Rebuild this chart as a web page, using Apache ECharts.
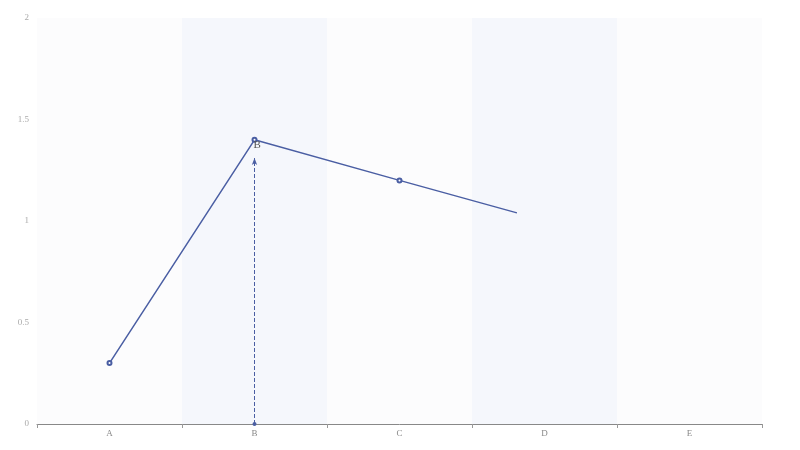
<!DOCTYPE html>
<html><head><meta charset="utf-8">
<script src="https://cdn.jsdelivr.net/npm/echarts@6/dist/echarts.min.js"></script>
<style>html,body{margin:0;padding:0;background:#fff}#c{width:800px;height:450px}</style>
</head><body><div id="c"></div>
<script>
var categories = ['A', 'B', 'C', 'D', 'E'];
var yTicks = [0, 0.5, 1, 1.5, 2];
var lineX = [0, 1, 2, 2.81];
var lineY = [0.3, 1.4, 1.2, 1.04];
var markX = 1;
var markFrom = 0;
var markTo = 1.31;
var markLabel = 'B';

var lineColor = '#4a5ea3';
var seriesData = lineX.map(function (x, i) {
  var d = { value: [x, lineY[i]] };
  if (i === lineX.length - 1) d.symbol = 'none';
  return d;
});

var chart = echarts.init(document.getElementById('c'));
chart.setOption({
  animation: false,
  textStyle: { fontFamily: 'Liberation Serif' },
  grid: { left: 37, right: 38, top: 18, bottom: 26 },
  xAxis: [{
    type: 'category',
    data: categories,
    axisLine: { lineStyle: { color: '#888', width: 1 } },
    axisTick: { show: true, length: 4, lineStyle: { color: '#999' } },
    axisLabel: { color: '#888', fontSize: 9, margin: 5, fontFamily: 'Liberation Serif' },
    splitArea: { show: true, areaStyle: { color: ['#fcfcfd', '#f5f7fc'] } }
  }, {
    type: 'value', min: -0.5, max: 4.5, show: false
  }],
  yAxis: {
    type: 'value', min: yTicks[0], max: yTicks[yTicks.length - 1], interval: 0.5,
    axisLine: { show: false }, axisTick: { show: false },
    axisLabel: { color: '#aaa', fontSize: 9, fontFamily: 'Liberation Serif' },
    splitLine: { lineStyle: { color: '#eceef2' } }
  },
  series: [{
    type: 'line',
    xAxisIndex: 1,
    data: seriesData,
    symbol: 'emptyCircle',
    symbolSize: 4,
    lineStyle: { color: lineColor, width: 1.5 },
    itemStyle: { color: lineColor, borderWidth: 1 },
    label: {
      show: true,
      position: [2, 3],
      color: '#555',
      fontSize: 11,
      fontFamily: 'Liberation Serif',
      formatter: function (p) { return p.dataIndex === 1 ? markLabel : ''; }
    },
    markLine: {
      silent: true,
      symbol: ['circle', 'arrow'],
      symbolSize: [4, 7],
      label: { show: false },
      lineStyle: { color: lineColor, type: 'dashed', width: 1 },
      data: [[{ coord: [markX, markFrom] }, { coord: [markX, markTo] }]]
    }
  }]
});
</script></body></html>
